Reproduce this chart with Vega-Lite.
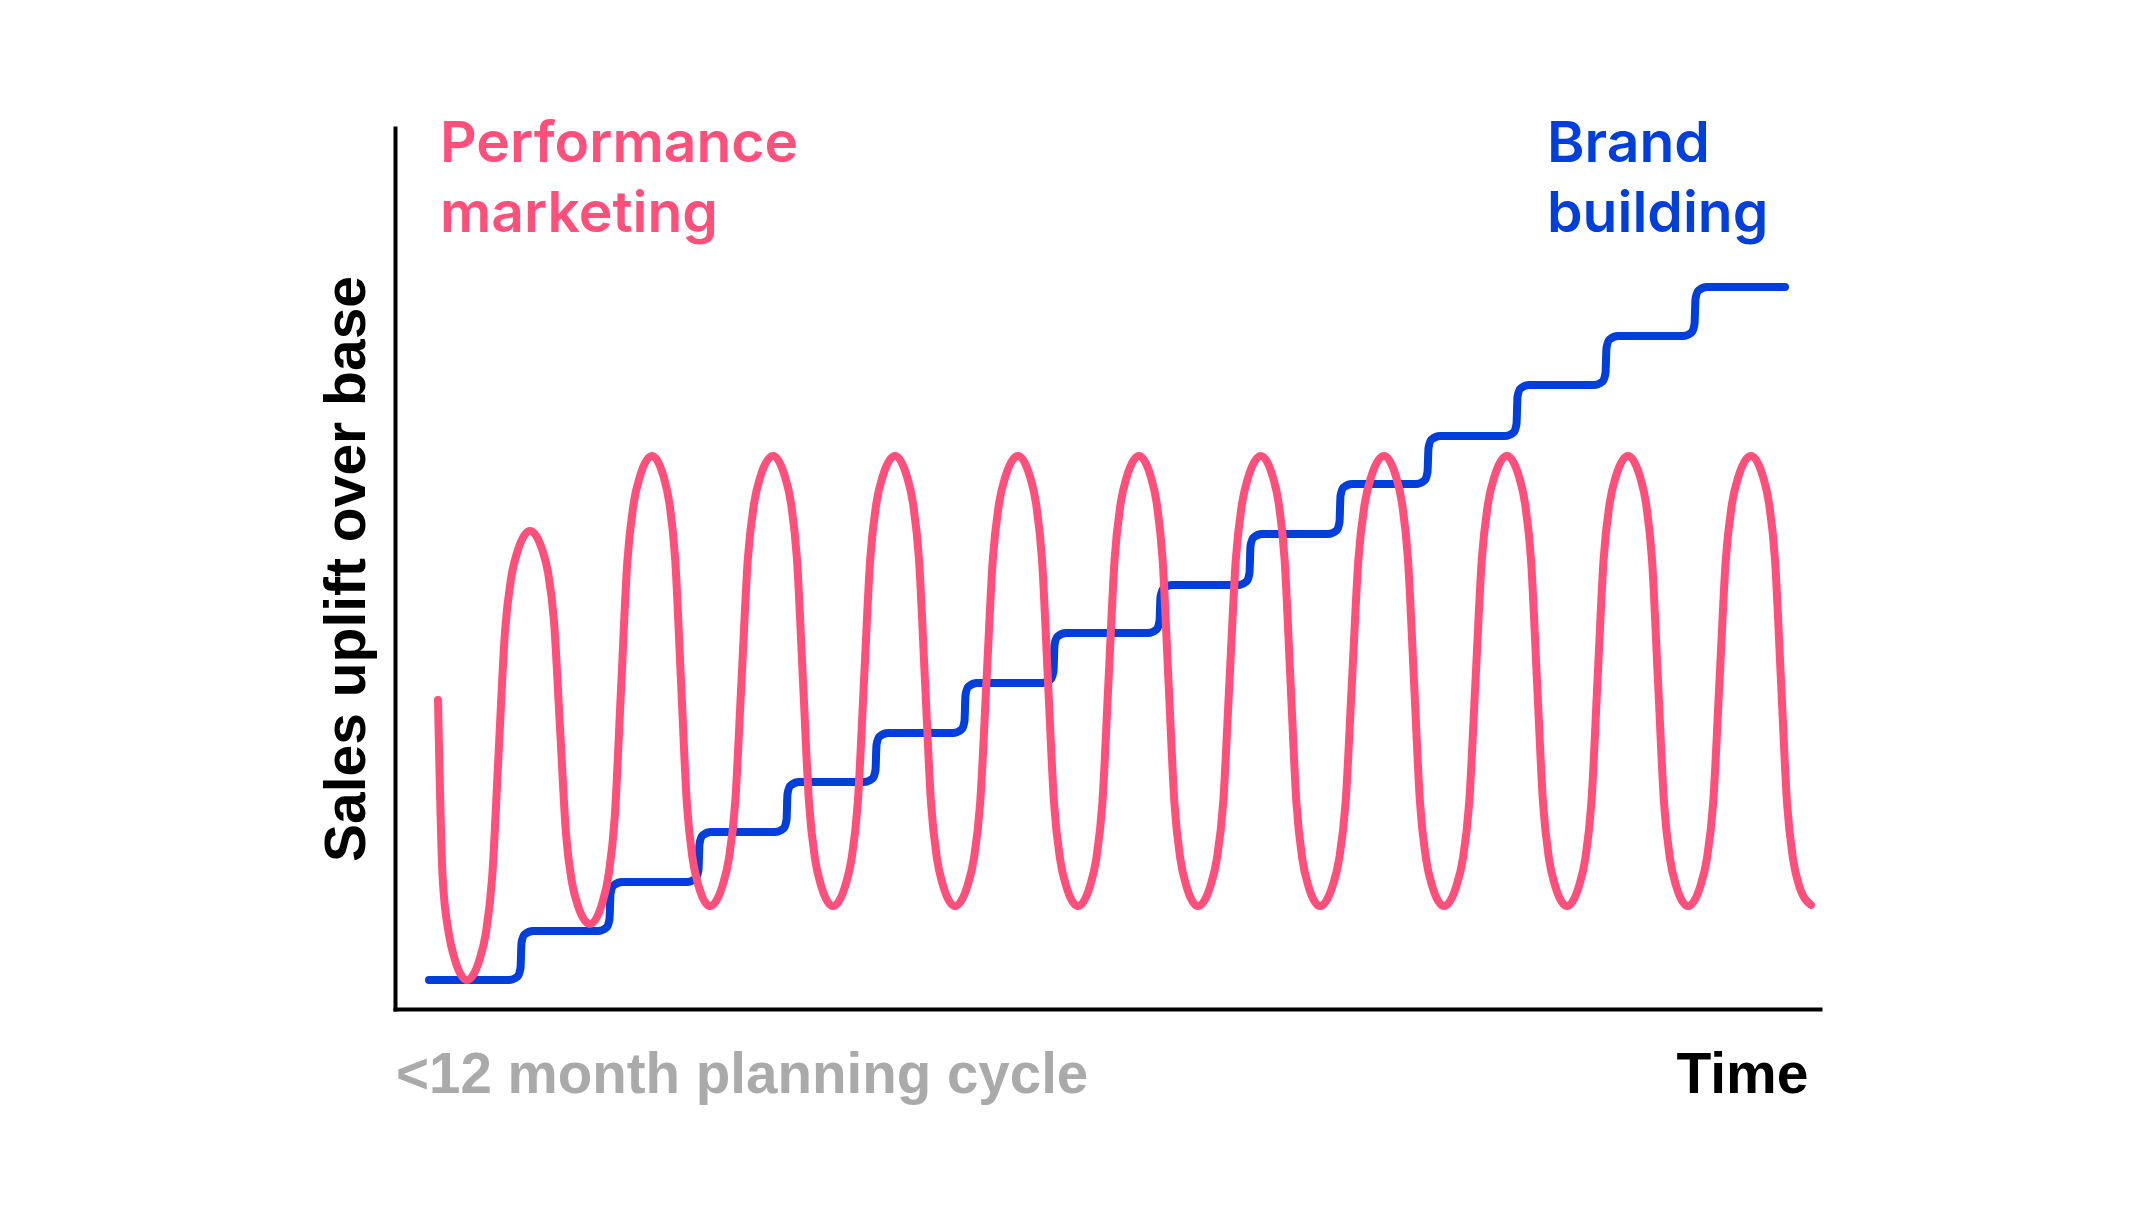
{
  "$schema": "https://vega.github.io/schema/vega-lite/v6.json",
  "width": 1425,
  "height": 881,
  "autosize": {"type": "none"},
  "padding": {"left": 395, "top": 128, "right": 312, "bottom": 213},
  "background": "white",
  "config": {"view": {"stroke": null}},
  "datasets": {
    "brand": [
      {"t": 34, "uplift": 29},
      {"t": 114, "uplift": 29}, {"t": 122.5, "uplift": 32.5}, {"t": 125.5, "uplift": 41}, {"t": 126.5, "uplift": 66}, {"t": 129.5, "uplift": 74.5}, {"t": 138, "uplift": 78},
      {"t": 203, "uplift": 78}, {"t": 211.5, "uplift": 81.5}, {"t": 214.5, "uplift": 90}, {"t": 215.5, "uplift": 115}, {"t": 218.5, "uplift": 123.5}, {"t": 227, "uplift": 127},
      {"t": 292, "uplift": 127}, {"t": 300.5, "uplift": 130.5}, {"t": 303.5, "uplift": 139}, {"t": 304.5, "uplift": 165}, {"t": 307.5, "uplift": 173.5}, {"t": 316, "uplift": 177},
      {"t": 380, "uplift": 177}, {"t": 388.5, "uplift": 180.5}, {"t": 391.5, "uplift": 189}, {"t": 392.5, "uplift": 215}, {"t": 395.5, "uplift": 223.5}, {"t": 404, "uplift": 227},
      {"t": 469, "uplift": 227}, {"t": 477.5, "uplift": 230.5}, {"t": 480.5, "uplift": 239}, {"t": 481.5, "uplift": 264}, {"t": 484.5, "uplift": 272.5}, {"t": 493, "uplift": 276},
      {"t": 558, "uplift": 276}, {"t": 566.5, "uplift": 279.5}, {"t": 569.5, "uplift": 288}, {"t": 570.5, "uplift": 314}, {"t": 573.5, "uplift": 322.5}, {"t": 582, "uplift": 326},
      {"t": 647, "uplift": 326}, {"t": 655.5, "uplift": 329.5}, {"t": 658.5, "uplift": 338}, {"t": 659.5, "uplift": 364}, {"t": 662.5, "uplift": 372.5}, {"t": 671, "uplift": 376},
      {"t": 753, "uplift": 376}, {"t": 761.5, "uplift": 379.5}, {"t": 764.5, "uplift": 388}, {"t": 765.5, "uplift": 412}, {"t": 768.5, "uplift": 420.5}, {"t": 777, "uplift": 424},
      {"t": 843, "uplift": 424}, {"t": 851.5, "uplift": 427.5}, {"t": 854.5, "uplift": 436}, {"t": 855.5, "uplift": 463}, {"t": 858.5, "uplift": 471.5}, {"t": 867, "uplift": 475},
      {"t": 933, "uplift": 475}, {"t": 941.5, "uplift": 478.5}, {"t": 944.5, "uplift": 487}, {"t": 945.5, "uplift": 513}, {"t": 948.5, "uplift": 521.5}, {"t": 957, "uplift": 525},
      {"t": 1021, "uplift": 525}, {"t": 1029.5, "uplift": 528.5}, {"t": 1032.5, "uplift": 537}, {"t": 1033.5, "uplift": 561}, {"t": 1036.5, "uplift": 569.5}, {"t": 1045, "uplift": 573},
      {"t": 1110, "uplift": 573}, {"t": 1118.5, "uplift": 576.5}, {"t": 1121.5, "uplift": 585}, {"t": 1122.5, "uplift": 612}, {"t": 1125.5, "uplift": 620.5}, {"t": 1134, "uplift": 624},
      {"t": 1199, "uplift": 624}, {"t": 1207.5, "uplift": 627.5}, {"t": 1210.5, "uplift": 636}, {"t": 1211.5, "uplift": 661}, {"t": 1214.5, "uplift": 669.5}, {"t": 1223, "uplift": 673},
      {"t": 1288, "uplift": 673}, {"t": 1296.5, "uplift": 676.5}, {"t": 1299.5, "uplift": 685}, {"t": 1300.5, "uplift": 710}, {"t": 1303.5, "uplift": 718.5}, {"t": 1312, "uplift": 722},
      {"t": 1390, "uplift": 722}
    ],
    "performance": [
      {"t": 43, "uplift": 309}, {"t": 47.6, "uplift": 132.3}, {"t": 53.7, "uplift": 76.1}, {"t": 59.8, "uplift": 49.7},
      {"t": 72, "uplift": 29},
      {"t": 84.6, "uplift": 49.7}, {"t": 90.9, "uplift": 76.1}, {"t": 97.2, "uplift": 132.3}, {"t": 103.5, "uplift": 253.5}, {"t": 109.8, "uplift": 374.7}, {"t": 116.1, "uplift": 430.9}, {"t": 122.4, "uplift": 457.3},
      {"t": 135, "uplift": 478},
      {"t": 147, "uplift": 459.9}, {"t": 153, "uplift": 436.7}, {"t": 159, "uplift": 387.6}, {"t": 165, "uplift": 281.5}, {"t": 171, "uplift": 175.4}, {"t": 177, "uplift": 126.3}, {"t": 183, "uplift": 103.1},
      {"t": 195, "uplift": 85},
      {"t": 207.4, "uplift": 106.5}, {"t": 213.6, "uplift": 134.1}, {"t": 219.8, "uplift": 192.6}, {"t": 226, "uplift": 319}, {"t": 232.2, "uplift": 445.4}, {"t": 238.4, "uplift": 503.9}, {"t": 244.6, "uplift": 531.5},
      {"t": 257, "uplift": 553},
      {"t": 268.6, "uplift": 532.3}, {"t": 274.4, "uplift": 505.8}, {"t": 280.2, "uplift": 449.5}, {"t": 286, "uplift": 328}, {"t": 291.8, "uplift": 206.5}, {"t": 297.6, "uplift": 150.3}, {"t": 303.4, "uplift": 123.7},
      {"t": 315, "uplift": 103},
      {"t": 327.6, "uplift": 123.7}, {"t": 333.9, "uplift": 150.3}, {"t": 340.2, "uplift": 206.5}, {"t": 346.5, "uplift": 328}, {"t": 352.8, "uplift": 449.5}, {"t": 359.1, "uplift": 505.8}, {"t": 365.4, "uplift": 532.3},
      {"t": 378, "uplift": 553},
      {"t": 390, "uplift": 532.3}, {"t": 396, "uplift": 505.8}, {"t": 402, "uplift": 449.5}, {"t": 408, "uplift": 328}, {"t": 414, "uplift": 206.5}, {"t": 420, "uplift": 150.3}, {"t": 426, "uplift": 123.7},
      {"t": 438, "uplift": 103},
      {"t": 450.4, "uplift": 123.7}, {"t": 456.6, "uplift": 150.3}, {"t": 462.8, "uplift": 206.5}, {"t": 469, "uplift": 328}, {"t": 475.2, "uplift": 449.5}, {"t": 481.4, "uplift": 505.8}, {"t": 487.6, "uplift": 532.3},
      {"t": 500, "uplift": 553},
      {"t": 512, "uplift": 532.3}, {"t": 518, "uplift": 505.8}, {"t": 524, "uplift": 449.5}, {"t": 530, "uplift": 328}, {"t": 536, "uplift": 206.5}, {"t": 542, "uplift": 150.3}, {"t": 548, "uplift": 123.7},
      {"t": 560, "uplift": 103},
      {"t": 572.6, "uplift": 123.7}, {"t": 578.9, "uplift": 150.3}, {"t": 585.2, "uplift": 206.5}, {"t": 591.5, "uplift": 328}, {"t": 597.8, "uplift": 449.5}, {"t": 604.1, "uplift": 505.8}, {"t": 610.4, "uplift": 532.3},
      {"t": 623, "uplift": 553},
      {"t": 635, "uplift": 532.3}, {"t": 641, "uplift": 505.8}, {"t": 647, "uplift": 449.5}, {"t": 653, "uplift": 328}, {"t": 659, "uplift": 206.5}, {"t": 665, "uplift": 150.3}, {"t": 671, "uplift": 123.7},
      {"t": 683, "uplift": 103},
      {"t": 695.2, "uplift": 123.7}, {"t": 701.3, "uplift": 150.3}, {"t": 707.4, "uplift": 206.5}, {"t": 713.5, "uplift": 328}, {"t": 719.6, "uplift": 449.5}, {"t": 725.7, "uplift": 505.8}, {"t": 731.8, "uplift": 532.3},
      {"t": 744, "uplift": 553},
      {"t": 755.8, "uplift": 532.3}, {"t": 761.7, "uplift": 505.8}, {"t": 767.6, "uplift": 449.5}, {"t": 773.5, "uplift": 328}, {"t": 779.4, "uplift": 206.5}, {"t": 785.3, "uplift": 150.3}, {"t": 791.2, "uplift": 123.7},
      {"t": 803, "uplift": 103},
      {"t": 815.6, "uplift": 123.7}, {"t": 821.9, "uplift": 150.3}, {"t": 828.2, "uplift": 206.5}, {"t": 834.5, "uplift": 328}, {"t": 840.8, "uplift": 449.5}, {"t": 847.1, "uplift": 505.8}, {"t": 853.4, "uplift": 532.3},
      {"t": 866, "uplift": 553},
      {"t": 877.8, "uplift": 532.3}, {"t": 883.7, "uplift": 505.8}, {"t": 889.6, "uplift": 449.5}, {"t": 895.5, "uplift": 328}, {"t": 901.4, "uplift": 206.5}, {"t": 907.3, "uplift": 150.3}, {"t": 913.2, "uplift": 123.7},
      {"t": 925, "uplift": 103},
      {"t": 937.8, "uplift": 123.7}, {"t": 944.2, "uplift": 150.3}, {"t": 950.6, "uplift": 206.5}, {"t": 957, "uplift": 328}, {"t": 963.4, "uplift": 449.5}, {"t": 969.8, "uplift": 505.8}, {"t": 976.2, "uplift": 532.3},
      {"t": 989, "uplift": 553},
      {"t": 1001, "uplift": 532.3}, {"t": 1007, "uplift": 505.8}, {"t": 1013, "uplift": 449.5}, {"t": 1019, "uplift": 328}, {"t": 1025, "uplift": 206.5}, {"t": 1031, "uplift": 150.3}, {"t": 1037, "uplift": 123.7},
      {"t": 1049, "uplift": 103},
      {"t": 1061.6, "uplift": 123.7}, {"t": 1067.9, "uplift": 150.3}, {"t": 1074.2, "uplift": 206.5}, {"t": 1080.5, "uplift": 328}, {"t": 1086.8, "uplift": 449.5}, {"t": 1093.1, "uplift": 505.8}, {"t": 1099.4, "uplift": 532.3},
      {"t": 1112, "uplift": 553},
      {"t": 1124, "uplift": 532.3}, {"t": 1130, "uplift": 505.8}, {"t": 1136, "uplift": 449.5}, {"t": 1142, "uplift": 328}, {"t": 1148, "uplift": 206.5}, {"t": 1154, "uplift": 150.3}, {"t": 1160, "uplift": 123.7},
      {"t": 1172, "uplift": 103},
      {"t": 1184.2, "uplift": 123.7}, {"t": 1190.3, "uplift": 150.3}, {"t": 1196.4, "uplift": 206.5}, {"t": 1202.5, "uplift": 328}, {"t": 1208.6, "uplift": 449.5}, {"t": 1214.7, "uplift": 505.8}, {"t": 1220.8, "uplift": 532.3},
      {"t": 1233, "uplift": 553},
      {"t": 1245, "uplift": 532.3}, {"t": 1251, "uplift": 505.8}, {"t": 1257, "uplift": 449.5}, {"t": 1263, "uplift": 328}, {"t": 1269, "uplift": 206.5}, {"t": 1275, "uplift": 150.3}, {"t": 1281, "uplift": 123.7},
      {"t": 1293, "uplift": 103},
      {"t": 1305.6, "uplift": 123.7}, {"t": 1311.9, "uplift": 150.3}, {"t": 1318.2, "uplift": 206.5}, {"t": 1324.5, "uplift": 328}, {"t": 1330.8, "uplift": 449.5}, {"t": 1337.1, "uplift": 505.8}, {"t": 1343.4, "uplift": 532.3},
      {"t": 1356, "uplift": 553},
      {"t": 1368, "uplift": 532.3}, {"t": 1374, "uplift": 505.8}, {"t": 1380, "uplift": 449.5}, {"t": 1386, "uplift": 328}, {"t": 1392, "uplift": 206.5}, {"t": 1398, "uplift": 150.3}, {"t": 1404, "uplift": 123.7},
      {"t": 1416, "uplift": 104}
    ]
  },
  "layer": [
    {
      "data": {"name": "brand"},
      "mark": {"type": "line", "interpolate": "monotone", "color": "#003fdb", "strokeWidth": 8, "strokeCap": "round", "strokeJoin": "round"},
      "encoding": {
        "x": {
          "field": "t", "type": "quantitative",
          "scale": {"domain": [0, 1425], "nice": false, "zero": false},
          "axis": {
            "domain": true, "domainColor": "black", "domainWidth": 4, "domainCap": "square",
            "ticks": false, "labels": false, "grid": false,
            "title": "Time", "titleFont": "Liberation Sans", "titleFontWeight": "bold", "titleFontSize": 57,
            "titleColor": "black", "titleX": 1413, "titleY": 83, "titleAlign": "right", "titleBaseline": "alphabetic"
          }
        },
        "y": {
          "field": "uplift", "type": "quantitative",
          "scale": {"domain": [0, 881], "nice": false},
          "axis": {
            "domain": true, "domainColor": "black", "domainWidth": 4, "domainCap": "square",
            "ticks": false, "labels": false, "grid": false,
            "title": "Sales uplift over base", "titleFont": "Liberation Sans", "titleFontWeight": "bold", "titleFontSize": 57,
            "titleColor": "black", "titleX": -31, "titleBaseline": "alphabetic"
          }
        }
      }
    },
    {
      "data": {"name": "performance"},
      "mark": {"type": "line", "interpolate": "monotone", "color": "#ff4f7b", "strokeWidth": 8, "strokeCap": "round", "strokeJoin": "round"},
      "encoding": {
        "x": {"field": "t", "type": "quantitative"},
        "y": {"field": "uplift", "type": "quantitative"}
      }
    },
    {
      "data": {"values": [{"label": "Performance\nmarketing"}]},
      "mark": {"type": "text", "lineBreak": "\n", "lineHeight": 70, "align": "left", "baseline": "alphabetic", "font": "Inter", "fontWeight": 600, "fontSize": 57, "color": "#ff4f7b"},
      "encoding": {
        "text": {"field": "label"},
        "x": {"datum": 45, "type": "quantitative"},
        "y": {"datum": 847, "type": "quantitative"}
      }
    },
    {
      "data": {"values": [{"label": "Brand\nbuilding"}]},
      "mark": {"type": "text", "lineBreak": "\n", "lineHeight": 70, "align": "left", "baseline": "alphabetic", "font": "Inter", "fontWeight": 600, "fontSize": 57, "color": "#003fdb"},
      "encoding": {
        "text": {"field": "label"},
        "x": {"datum": 1152, "type": "quantitative"},
        "y": {"datum": 847, "type": "quantitative"}
      }
    },
    {
      "data": {"values": [{"label": "<12 month planning cycle"}]},
      "mark": {"type": "text", "align": "left", "baseline": "alphabetic", "font": "Liberation Sans", "fontWeight": "bold", "fontSize": 56.5, "color": "#aaaaaa"},
      "encoding": {
        "text": {"field": "label"},
        "x": {"datum": 1, "type": "quantitative"},
        "y": {"datum": -84, "type": "quantitative"}
      }
    }
  ]
}
